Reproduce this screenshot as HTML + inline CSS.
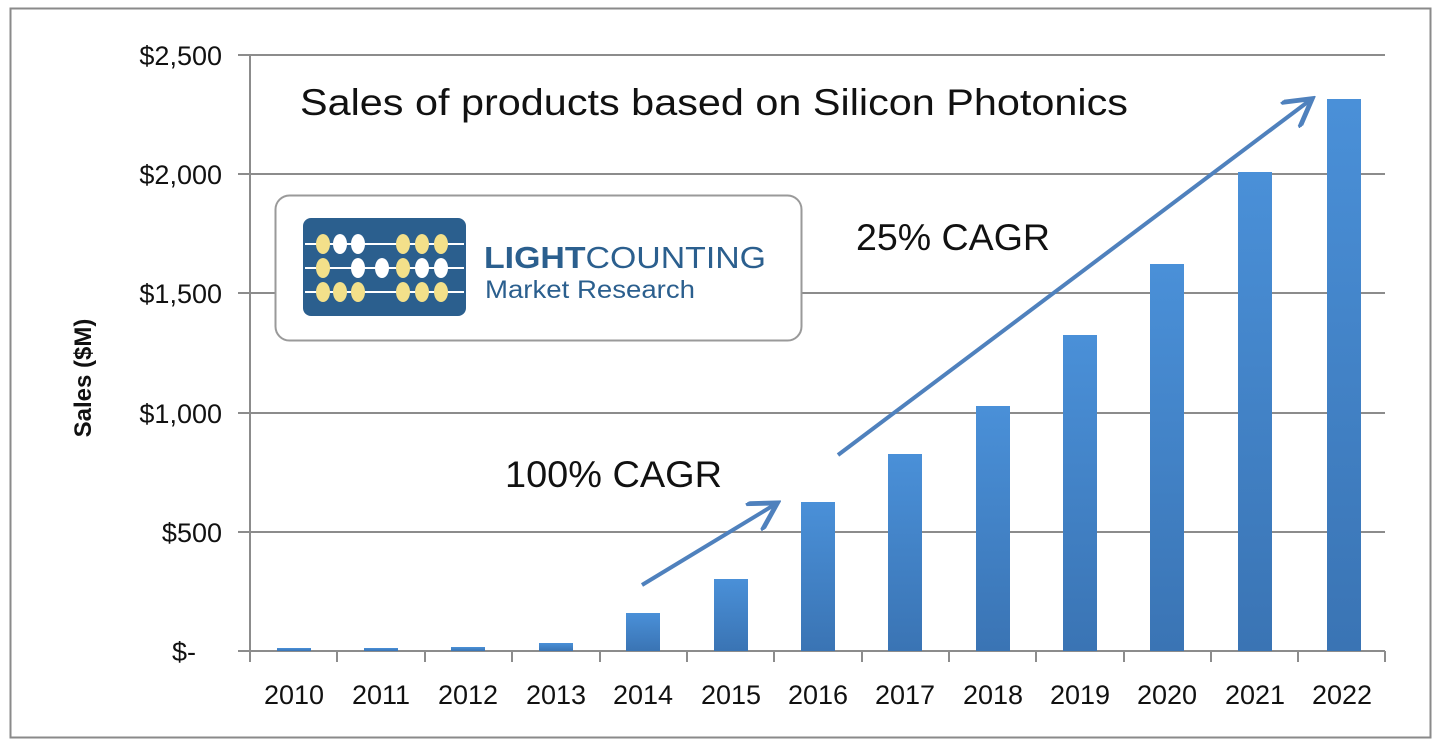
<!DOCTYPE html>
<html><head><meta charset="utf-8"><style>
html,body{margin:0;padding:0;background:#fff;}
svg{display:block;font-family:"Liberation Sans",sans-serif;}
</style></head><body>
<svg width="1440" height="744" viewBox="0 0 1440 744" xmlns="http://www.w3.org/2000/svg">
<defs>
<linearGradient id="bg" x1="0" y1="0" x2="0" y2="1">
<stop offset="0" stop-color="#4a90d8"/><stop offset="1" stop-color="#3a74b4"/>
</linearGradient>
<marker id="ah" markerWidth="8" markerHeight="8" refX="6" refY="4" orient="auto" markerUnits="strokeWidth">
<path d="M0,0 L7,4 L0,8" fill="none" stroke="#4f81bd" stroke-width="1.2"/>
</marker>
</defs>
<rect x="10.5" y="8.5" width="1420" height="729" fill="#fff" stroke="#8a8a8a" stroke-width="2"/>
<g stroke="#8c8c8c" stroke-width="2">
<line x1="238" y1="55" x2="1385" y2="55"/>
<line x1="238" y1="174" x2="1385" y2="174"/>
<line x1="238" y1="293" x2="1385" y2="293"/>
<line x1="238" y1="413" x2="1385" y2="413"/>
<line x1="238" y1="532" x2="1385" y2="532"/>
<line x1="238" y1="651" x2="1385" y2="651"/>
<line x1="250" y1="55" x2="250" y2="662"/>
<line x1="337" y1="651" x2="337" y2="662"/><line x1="425" y1="651" x2="425" y2="662"/>
<line x1="512" y1="651" x2="512" y2="662"/><line x1="600" y1="651" x2="600" y2="662"/>
<line x1="687" y1="651" x2="687" y2="662"/><line x1="774" y1="651" x2="774" y2="662"/>
<line x1="862" y1="651" x2="862" y2="662"/><line x1="949" y1="651" x2="949" y2="662"/>
<line x1="1036" y1="651" x2="1036" y2="662"/><line x1="1124" y1="651" x2="1124" y2="662"/>
<line x1="1211" y1="651" x2="1211" y2="662"/><line x1="1298" y1="651" x2="1298" y2="662"/>
<line x1="1385" y1="651" x2="1385" y2="662"/>
</g>
<g fill="url(#bg)">
<rect x="277" y="648" width="34" height="3"/>
<rect x="364" y="648" width="34" height="3"/>
<rect x="451" y="647" width="34" height="4"/>
<rect x="539" y="643" width="34" height="8"/>
<rect x="626" y="613" width="34" height="38"/>
<rect x="714" y="579" width="34" height="72"/>
<rect x="801" y="502" width="34" height="149"/>
<rect x="888" y="454" width="34" height="197"/>
<rect x="976" y="406" width="34" height="245"/>
<rect x="1063" y="335" width="34" height="316"/>
<rect x="1150" y="264" width="34" height="387"/>
<rect x="1238" y="172" width="34" height="479"/>
<rect x="1327" y="99" width="34" height="552"/>
</g>
<g font-size="27" fill="#111" text-anchor="end">
<text x="222" y="65">$2,500</text><text x="222" y="184">$2,000</text>
<text x="222" y="303">$1,500</text><text x="222" y="423">$1,000</text>
<text x="222" y="542">$500</text><text x="196" y="661">$-</text>
</g>
<g font-size="27" fill="#111" text-anchor="middle">
<text x="294" y="704">2010</text><text x="381" y="704">2011</text><text x="468" y="704">2012</text>
<text x="556" y="704">2013</text><text x="643" y="704">2014</text><text x="731" y="704">2015</text>
<text x="818" y="704">2016</text><text x="905" y="704">2017</text><text x="993" y="704">2018</text>
<text x="1080" y="704">2019</text><text x="1167" y="704">2020</text><text x="1255" y="704">2021</text>
<text x="1342" y="704">2022</text>
</g>
<text transform="translate(91,378) rotate(-90)" font-size="24" font-weight="bold" text-anchor="middle" fill="#111">Sales ($M)</text>
<text x="300" y="115" font-size="37" fill="#111" textLength="828" lengthAdjust="spacingAndGlyphs">Sales of products based on Silicon Photonics</text>
<text x="856" y="250" font-size="37" fill="#111" textLength="194" lengthAdjust="spacingAndGlyphs">25% CAGR</text>
<text x="505" y="487" font-size="37" fill="#111" textLength="217" lengthAdjust="spacingAndGlyphs">100% CAGR</text>
<g stroke="#4f81bd" stroke-width="4" fill="none">
<line x1="642" y1="585" x2="774" y2="505" marker-end="url(#ah)"/>
<line x1="838" y1="455" x2="1309" y2="101" marker-end="url(#ah)"/>
</g>
<rect x="275.5" y="195.5" width="526" height="145" rx="14" fill="#fff" stroke="#9a9a9a" stroke-width="2"/>
<rect x="303" y="218" width="163" height="98" rx="8" fill="#2b5f8e"/>
<g stroke="#fff" stroke-width="2"><line x1="305" y1="244" x2="464" y2="244"/><line x1="305" y1="268" x2="464" y2="268"/><line x1="305" y1="292" x2="464" y2="292"/></g>
<g fill="#f3e08a">
<ellipse cx="323" cy="244" rx="7" ry="10"/><ellipse cx="403" cy="244" rx="7" ry="10"/><ellipse cx="422" cy="244" rx="7" ry="10"/><ellipse cx="441" cy="244" rx="7" ry="10"/>
<ellipse cx="323" cy="268" rx="7" ry="10"/><ellipse cx="403" cy="268" rx="7" ry="10"/>
<ellipse cx="323" cy="292" rx="7" ry="10"/><ellipse cx="340" cy="292" rx="7" ry="10"/><ellipse cx="358" cy="292" rx="7" ry="10"/><ellipse cx="403" cy="292" rx="7" ry="10"/><ellipse cx="422" cy="292" rx="7" ry="10"/><ellipse cx="441" cy="292" rx="7" ry="10"/>
</g>
<g fill="#fff">
<ellipse cx="340" cy="244" rx="7" ry="10"/><ellipse cx="358" cy="244" rx="7" ry="10"/>
<ellipse cx="358" cy="268" rx="7" ry="10"/><ellipse cx="382" cy="268" rx="7" ry="10"/><ellipse cx="422" cy="268" rx="7" ry="10"/><ellipse cx="441" cy="268" rx="7" ry="10"/>
</g>
<text x="484" y="268" font-size="31" fill="#2b5f8e" textLength="282" lengthAdjust="spacingAndGlyphs"><tspan font-weight="bold">LIGHT</tspan>COUNTING</text>
<text x="485" y="298" font-size="25" fill="#2b5f8e" textLength="210" lengthAdjust="spacingAndGlyphs">Market Research</text>
</svg>
</body></html>
